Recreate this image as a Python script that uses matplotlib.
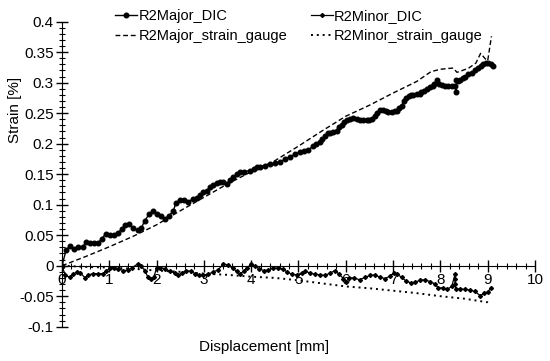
import numpy as np
import matplotlib
matplotlib.use("Agg")
import matplotlib.pyplot as plt
from matplotlib.ticker import MultipleLocator, FuncFormatter

plt.rcParams['font.family'] = ['Liberation Sans Narrow', 'Liberation Sans', 'DejaVu Sans']

# R2Major_DIC (displacement mm, strain %)
major_dic_x = [0, 0.085, 0.17, 0.25, 0.34, 0.44, 0.51, 0.59, 0.68, 0.77, 0.84, 0.92, 1.01, 1.10,
               1.19, 1.26, 1.33, 1.42, 1.51, 1.60, 1.68, 1.75, 1.85, 1.93, 2.00, 2.09, 2.18, 2.26,
               2.35, 2.41, 2.49, 2.58, 2.67, 2.76, 2.85, 2.92, 2.99, 3.06, 3.13, 3.20, 3.27, 3.34,
               3.40, 3.48, 3.55, 3.62, 3.69, 3.76, 3.85, 3.97, 4.05, 4.12, 4.19, 4.30, 4.40, 4.50,
               4.61, 4.72, 4.82, 4.92, 5.03, 5.12, 5.21, 5.31, 5.38, 5.45, 5.50, 5.56, 5.62, 5.67,
               5.74, 5.81, 5.86, 5.91, 5.97, 6.02, 6.09, 6.16, 6.23, 6.30, 6.37, 6.44, 6.50, 6.55,
               6.62, 6.67, 6.72, 6.79, 6.85, 6.90, 6.97, 7.03, 7.08, 7.13, 7.18, 7.23, 7.27, 7.33,
               7.38, 7.43, 7.50, 7.56, 7.60, 7.66, 7.71, 7.78, 7.84, 7.87, 7.92, 7.97, 8.03, 8.10,
               8.17, 8.24, 8.31, 8.33, 8.34, 8.37, 8.41, 8.47, 8.52, 8.59, 8.66, 8.73, 8.80, 8.86,
               8.91, 8.97, 9.01, 9.06, 9.12]
major_dic_y = [0, 0.025, 0.033, 0.027, 0.031, 0.031, 0.039, 0.037, 0.037, 0.038, 0.044, 0.052, 0.051, 0.051,
               0.054, 0.060, 0.067, 0.068, 0.062, 0.058, 0.062, 0.074, 0.085, 0.089, 0.085, 0.081, 0.077, 0.082,
               0.089, 0.103, 0.108, 0.108, 0.105, 0.109, 0.111, 0.116, 0.120, 0.123, 0.129, 0.132, 0.136, 0.137,
               0.138, 0.134, 0.140, 0.146, 0.150, 0.153, 0.154, 0.156, 0.158, 0.162, 0.162, 0.164, 0.166, 0.168,
               0.170, 0.175, 0.178, 0.183, 0.186, 0.188, 0.190, 0.196, 0.199, 0.202, 0.207, 0.212, 0.217, 0.218,
               0.219, 0.221, 0.227, 0.231, 0.236, 0.238, 0.241, 0.242, 0.241, 0.239, 0.238, 0.238, 0.239, 0.241,
               0.246, 0.251, 0.255, 0.255, 0.253, 0.252, 0.252, 0.253, 0.254, 0.258, 0.262, 0.270, 0.275, 0.278,
               0.279, 0.280, 0.281, 0.282, 0.285, 0.287, 0.289, 0.293, 0.295, 0.297, 0.305, 0.297, 0.296, 0.295,
               0.295, 0.294, 0.294, 0.284, 0.305, 0.303, 0.305, 0.308, 0.310, 0.314, 0.316, 0.320, 0.324, 0.328,
               0.331, 0.332, 0.333, 0.331, 0.327]

# R2Major_strain_gauge
major_sg_x = [0, 0.5, 1.0, 1.5, 2.0, 2.5, 3.0, 3.5, 4.0, 4.5, 5.0, 5.5, 6.0, 6.5, 7.0, 7.5, 7.8,
              8.0, 8.27, 8.35, 8.4, 8.6, 8.75, 8.85, 8.95, 9.0, 9.08]
major_sg_y = [0, 0.015, 0.031, 0.048, 0.067, 0.090, 0.112, 0.134, 0.154, 0.172, 0.196, 0.221, 0.245,
              0.263, 0.283, 0.302, 0.318, 0.322, 0.324, 0.317, 0.318, 0.324, 0.332, 0.348, 0.339, 0.336, 0.376]

# R2Minor_DIC
minor_dic_x = [0, 0.07, 0.17, 0.24, 0.32, 0.39, 0.49, 0.56, 0.66, 0.77, 0.86, 0.94, 1.01, 1.10, 1.19,
               1.30, 1.40, 1.49, 1.60, 1.68, 1.75, 1.82, 1.89, 1.94, 2.00, 2.07, 2.18, 2.28, 2.39, 2.46,
               2.53, 2.62, 2.72, 2.81, 2.90, 2.99, 3.09, 3.20, 3.30, 3.41, 3.50, 3.61, 3.69, 3.76, 3.85,
               3.92, 3.99, 4.08, 4.17, 4.27, 4.36, 4.47, 4.57, 4.67, 4.75, 4.86, 4.96, 5.07, 5.14, 5.24,
               5.35, 5.45, 5.56, 5.67, 5.77, 5.86, 5.95, 6.00, 6.07, 6.17, 6.29, 6.41, 6.51, 6.62, 6.72,
               6.83, 6.94, 7.01, 7.09, 7.18, 7.27, 7.37, 7.46, 7.57, 7.67, 7.78, 7.89, 7.96, 8.05, 8.14,
               8.24, 8.31, 8.31, 8.31, 8.33, 8.41, 8.52, 8.62, 8.73, 8.84, 8.93, 9.00, 9.07]
minor_dic_y = [0, -0.016, -0.019, -0.014, -0.010, -0.012, -0.020, -0.015, -0.013, -0.013, -0.013, -0.009,
               -0.004, -0.003, -0.005, -0.008, -0.007, -0.003, 0.003, -0.001, -0.008, -0.019, -0.022, -0.019,
               -0.004, -0.003, -0.005, -0.009, -0.012, -0.016, -0.012, -0.008, -0.009, -0.013, -0.016, -0.015,
               -0.014, -0.010, -0.007, 0.003, 0.001, -0.004, -0.009, -0.014, -0.008, -0.004, 0.003, -0.001,
               -0.005, -0.008, -0.007, -0.004, -0.004, -0.005, -0.010, -0.014, -0.015, -0.012, -0.009, -0.012,
               -0.014, -0.015, -0.016, -0.012, -0.008, -0.014, -0.021, -0.026, -0.020, -0.020, -0.023, -0.019,
               -0.016, -0.015, -0.019, -0.021, -0.017, -0.012, -0.014, -0.019, -0.025, -0.028, -0.027, -0.024,
               -0.023, -0.026, -0.030, -0.037, -0.036, -0.039, -0.034, -0.014, -0.022, -0.030, -0.039, -0.038,
               -0.039, -0.040, -0.042, -0.049, -0.045, -0.043, -0.036]

# R2Minor_strain_gauge
minor_sg_x = [0, 0.5, 1.0, 1.5, 2.0, 2.5, 3.0, 3.5, 4.0, 4.5, 5.0, 5.5, 6.0, 6.5, 7.0, 7.5, 8.0,
              8.5, 9.0, 9.05]
minor_sg_y = [0, -0.002, -0.003, -0.005, -0.008, -0.010, -0.013, -0.015, -0.018, -0.020, -0.024,
              -0.029, -0.034, -0.037, -0.041, -0.045, -0.050, -0.054, -0.060, -0.062]

fig = plt.figure(figsize=(5.5, 3.61), dpi=100)
ax = fig.add_axes([0.1127, 0.095, 0.86, 0.845])

l1, = ax.plot(major_dic_x, major_dic_y, color='black', lw=1.0, marker='o', ms=3.3, label='R2Major_DIC')
l2, = ax.plot(minor_dic_x, minor_dic_y, color='black', lw=0.9, marker='D', ms=2.0, label='R2Minor_DIC')
l3, = ax.plot(major_sg_x, major_sg_y, color='black', lw=1.0, ls=(0, (3.5, 2)), label='R2Major_strain_gauge')
l4, = ax.plot(minor_sg_x, minor_sg_y, color='black', lw=1.4, ls=(0, (1, 2)), label='R2Minor_strain_gauge')

ax.set_xlim(0, 10)
ax.set_ylim(-0.1, 0.4)

# spines crossing at the origin
ax.spines['top'].set_visible(False)
ax.spines['right'].set_visible(False)
ax.spines['bottom'].set_position(('data', 0))
ax.spines['left'].set_position(('data', 0))

ax.xaxis.set_major_locator(MultipleLocator(1))
ax.xaxis.set_minor_locator(MultipleLocator(0.2))
ax.yaxis.set_major_locator(MultipleLocator(0.05))
ax.yaxis.set_minor_locator(MultipleLocator(0.01))

def fmt(v, pos):
    s = ('%.2f' % v).rstrip('0').rstrip('.')
    return '0' if s in ('-0', '0') else s

ax.yaxis.set_major_formatter(FuncFormatter(fmt))
ax.xaxis.set_major_formatter(FuncFormatter(lambda v, p: '%d' % round(v)))

ax.tick_params(which='major', direction='inout', length=8, width=1, labelsize=11, pad=1)
ax.tick_params(which='minor', direction='inout', length=4, width=0.8)
ax.tick_params(axis='y', pad=2)

ax.set_xlabel('Displacement [mm]', fontsize=11)
ax.set_ylabel('Strain [%]', fontsize=11)
ax.xaxis.set_label_coords(0.427, -0.045)
ax.yaxis.set_label_coords(-0.085, 0.71)

leg = ax.legend([l1, l3, l2, l4], [l1.get_label(), l3.get_label(), l2.get_label(), l4.get_label()],
                ncol=2, loc='upper left', bbox_to_anchor=(0.085, 1.085), frameon=False,
                fontsize=10.5, handlelength=1.5, handletextpad=0.1, columnspacing=1.6,
                labelspacing=0.4, numpoints=1)

fig.savefig('out.png', dpi=100)
